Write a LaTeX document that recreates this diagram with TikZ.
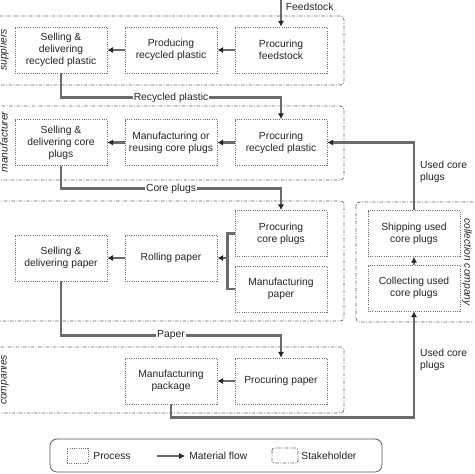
\documentclass[tikz,border=0pt]{standalone}
\usepackage{fontspec}
\setmainfont{Liberation Sans}
\usepackage{tikz}
\usetikzlibrary{
    positioning,
    arrows.meta,
    calc
}

\tikzset{
    proc/.style={draw=black!55, line width=0.65pt, dash pattern=on 0.8pt off 1.1pt,
        minimum width=2.76cm, minimum height=1.38cm, align=center, inner sep=1pt,
        font=\fontsize{8.8}{10.3}\selectfont, text=black!85},
    stake/.style={draw=black!60, line width=0.65pt, rounded corners=3pt,
        dash pattern=on 3pt off 1.3pt on 0.8pt off 1.3pt},
    flow/.style={draw=black!58, line width=2.4pt,
        -{Latex[length=5pt, width=5.5pt, color=black!85]}},
    flowline/.style={draw=black!58, line width=2.4pt},
    lbl/.style={fill=white, inner sep=1pt, font=\fontsize{8.8}{10.3}\selectfont, text=black!85},
    side/.style={inner sep=0pt, font=\fontsize{8.8}{10.3}\selectfont\itshape, text=black!85}
}

\begin{document}
\begin{tikzpicture}[x=0.03cm, y=-0.03cm]
            \clip (0,0) rectangle (474,474);

            % stakeholders
            \draw[stake] (-10,16) rectangle (344,85);
            \draw[stake] (-10,106) rectangle (344,180);
            \draw[stake] (-10,201) rectangle (344,321);
            \draw[stake] (-10,347) rectangle (344,413);
            \draw[stake] (356,202) rectangle (490,322);

            \node[side, rotate=90] (suppliers) at (4,50) {suppliers};
            \node[side, rotate=90] (manufacturer) at (4,142) {manufacturer};
            \node[side, rotate=90] (companies) at (4,380) {companies};
            \node[side, rotate=-90] (collector) at (467,262) {collection company};

            % processes
            \node[proc] (sellRP) at (61,50) {Selling \&\\delivering\\recycled plastic};
            \node[proc] (prodRP) at (171,50) {Producing\\recycled plastic};
            \node[proc] (procF) at (281,50) {Procuring\\feedstock};

            \node[proc] (sellCP) at (61,142.5) {Selling \&\\delivering core\\plugs};
            \node[proc] (mfgCP) at (171,142.5) {Manufacturing or\\reusing core plugs};
            \node[proc] (procRP) at (281,142.5) {Procuring\\recycled plastic};

            \node[proc] (sellP) at (61,258) {Selling \&\\delivering paper};
            \node[proc] (roll) at (171,258) {Rolling paper};
            \node[proc] (procCP) at (281,233.5) {Procuring\\core plugs};
            \node[proc] (mfgP) at (281,289) {Manufacturing\\paper};

            \node[proc] (mfgPk) at (171,381) {Manufacturing\\package};
            \node[proc] (procP) at (281,381) {Procuring paper};

            \node[proc] (ship) at (414,233.5) {Shipping used\\core plugs};
            \node[proc] (coll) at (414,288) {Collecting used\\core plugs};

            % material flows
            \coordinate (feed) at (281,0);
            \draw[flow] (feed) -- node[lbl, fill=none, anchor=west, pos=0.25, xshift=2pt] {Feedstock} (procF.north);
            \draw[flow] (procF.west) -- (prodRP.east);
            \draw[flow] (prodRP.west) -- (sellRP.east);
            \draw[flow] (sellRP.south) -- ++(0,24) -| node[lbl, pos=0.25] {Recycled plastic} (procRP.north);

            \draw[flow] (procRP.west) -- (mfgCP.east);
            \draw[flow] (mfgCP.west) -- (sellCP.east);
            \draw[flow] (sellCP.south) -- ++(0,22.5) -| node[lbl, pos=0.25] {Core plugs} (procCP.north);

            \coordinate (brk) at (228,258);
            \draw[flowline] (procCP.west) -- ++(-7,0) |- (mfgP.west);
            \draw[flow] (brk) -- (roll.east);
            \draw[flow] (roll.west) -- (sellP.east);
            \draw[flow] (sellP.south) -- ++(0,54) -| node[lbl, pos=0.25] {Paper} (procP.north);

            \draw[flow] (procP.west) -- (mfgPk.east);
            \draw[flow] (mfgPk.south) -- ++(0,13) -| node[lbl, fill=none, pos=0.77, anchor=west, align=left, xshift=3pt] {Used core\\plugs} (coll.south);
            \draw[flow] (coll.north) -- (ship.south);
            \draw[flow] (ship.north) |- node[lbl, fill=none, pos=0.28, anchor=west, align=left, xshift=3pt] {Used core\\plugs} (procRP.east);

            % legend
            \draw[draw=black!65, line width=0.65pt, rounded corners=6pt] (50,439) rectangle (382,472);
            \node[proc, minimum width=0.63cm, minimum height=0.45cm] (keyProc) at (77.5,455.5) {};
            \node[lbl, fill=none, anchor=west] (keyProcTxt) at (92,456) {Process};
            \coordinate (keyA) at (157,456);
            \coordinate (keyB) at (185,456);
            \draw[flow] (keyA) -- (keyB);
            \node[lbl, fill=none, anchor=west] (keyFlowTxt) at (188,456) {Material flow};
            \draw[stake, rounded corners=2pt] (272,448) rectangle (298,463);
            \node[lbl, fill=none, anchor=west] (keyStakeTxt) at (300,456) {Stakeholder};
        \end{tikzpicture}
\end{document}
